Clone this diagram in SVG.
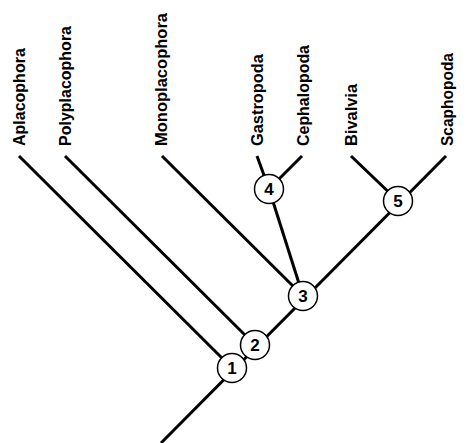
<svg xmlns="http://www.w3.org/2000/svg" width="468" height="443" viewBox="0 0 468 443">
<style>
.e{stroke:#000;stroke-width:3;fill:none;stroke-linecap:butt}
.n{fill:#fff;stroke:#000;stroke-width:1.5}
.t{font-family:"Liberation Sans",Arial,sans-serif;font-weight:bold;font-size:16px;fill:#000}
.u{font-family:"Liberation Sans",Arial,sans-serif;font-weight:bold;font-size:16.5px;fill:#000}
.k{font-family:"Liberation Sans",Arial,sans-serif;font-weight:bold;font-size:17px;fill:#000;text-anchor:middle}
</style>
<rect width="468" height="443" fill="#fff"/>
<g id="connectors">
<line class="e" x1="161" y1="443" x2="446" y2="156"/>
<line class="e" x1="19" y1="156" x2="232" y2="368"/>
<line class="e" x1="65" y1="156" x2="255" y2="345"/>
<line class="e" x1="162" y1="156" x2="303" y2="296"/>
<line class="e" x1="269" y1="189" x2="303" y2="296"/>
<line class="e" x1="257" y1="156" x2="269" y2="189"/>
<line class="e" x1="302" y1="156" x2="269" y2="189"/>
<line class="e" x1="351" y1="156" x2="398" y2="201"/>
</g>
<g id="label-aplacophora"><text class="t" transform="translate(24.5,146) rotate(-90)">Aplacophora</text></g>
<g id="label-polyplacophora"><text class="t" transform="translate(70.5,146) rotate(-90)">Polyplacophora</text></g>
<g id="label-monoplacophora"><text class="t" transform="translate(166.5,146) rotate(-90)" textLength="133" lengthAdjust="spacingAndGlyphs">Monoplacophora</text></g>
<g id="label-gastropoda"><text class="u" transform="translate(262.5,146) rotate(-90)" textLength="92" lengthAdjust="spacingAndGlyphs">Gastropoda</text></g>
<g id="label-cephalopoda"><text class="u" transform="translate(308.5,146) rotate(-90)" textLength="101" lengthAdjust="spacingAndGlyphs">Cephalopoda</text></g>
<g id="label-bivalvia"><text class="u" transform="translate(356.5,146) rotate(-90)" textLength="62" lengthAdjust="spacingAndGlyphs">Bivalvia</text></g>
<g id="label-scaphopoda"><text class="u" transform="translate(453,146) rotate(-90)" textLength="93" lengthAdjust="spacingAndGlyphs">Scaphopoda</text></g>
<g id="node-1"><circle class="n" cx="232" cy="368" r="14.5"/><text class="k" x="232" y="374">1</text></g>
<g id="node-2"><circle class="n" cx="255" cy="345" r="14.5"/><text class="k" x="255" y="351">2</text></g>
<g id="node-3"><circle class="n" cx="303" cy="296" r="14.5"/><text class="k" x="303" y="302">3</text></g>
<g id="node-4"><circle class="n" cx="269" cy="189" r="14.5"/><text class="k" x="269" y="195">4</text></g>
<g id="node-5"><circle class="n" cx="398" cy="201" r="14.5"/><text class="k" x="398" y="207">5</text></g>
</svg>
